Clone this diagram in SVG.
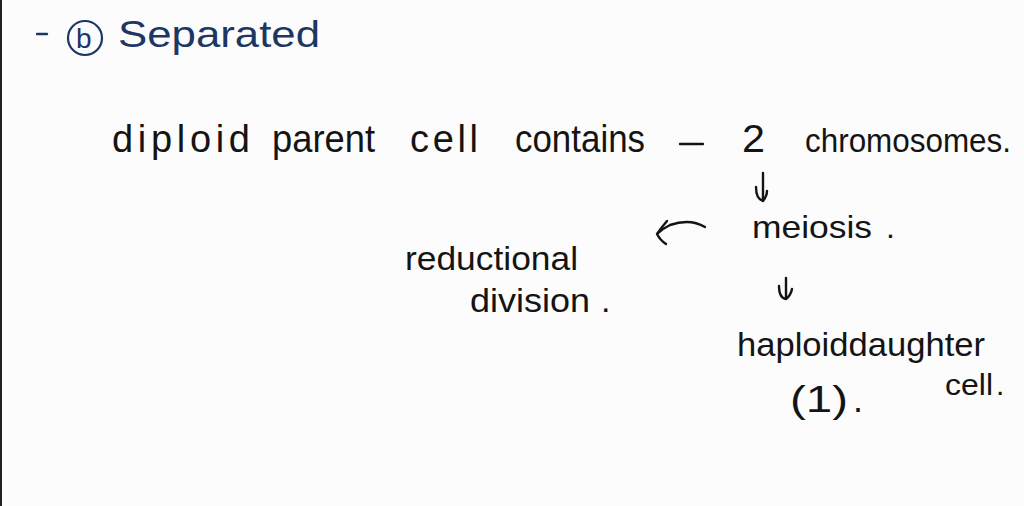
<svg xmlns="http://www.w3.org/2000/svg" width="1024" height="506" viewBox="0 0 1024 506">
<style>
.t{font-family:"Liberation Sans","DejaVu Sans",sans-serif;fill:#141414;}
.b{fill:#1d3764;}
.ar{fill:none;stroke:#141414;stroke-width:2.4;stroke-linecap:round;stroke-linejoin:round;}
</style>
<rect width="1024" height="506" fill="#fcfcfc"/>
<rect x="0" y="0" width="2" height="506" fill="#222"/>
<g id="heading">
<line x1="37" y1="34" x2="47" y2="34" stroke="#1d3764" stroke-width="2.4" stroke-linecap="round"/>
<circle cx="85" cy="38" r="17" fill="none" stroke="#1d3764" stroke-width="2.2"/>
<text class="t b" x="76" y="48" font-size="28">b</text>
<text class="t b" x="118" y="47" font-size="36" textLength="202" lengthAdjust="spacingAndGlyphs">Separated</text>
</g>
<g id="parent">
<text class="t" x="112" y="152" font-size="38" textLength="138" lengthAdjust="spacing">diploid</text>
<text class="t" x="272" y="152" font-size="38" textLength="103" lengthAdjust="spacingAndGlyphs">parent</text>
<text class="t" x="410" y="152" font-size="38" textLength="68" lengthAdjust="spacing">cell</text>
<text class="t" x="515" y="152" font-size="38" textLength="130" lengthAdjust="spacingAndGlyphs">contains</text>
<line x1="680" y1="144" x2="703" y2="144" stroke="#141414" stroke-width="2.4" stroke-linecap="round"/>
<text class="t" x="742" y="152" font-size="38" textLength="23" lengthAdjust="spacingAndGlyphs">2</text>
<text class="t" x="805" y="152" font-size="33" textLength="206" lengthAdjust="spacingAndGlyphs">chromosomes.</text>
</g>
<g id="meiosis">
<text class="t" x="752" y="238" font-size="32" textLength="120" lengthAdjust="spacingAndGlyphs">meiosis</text>
<text class="t" x="886" y="238" font-size="32">.</text>
</g>
<g id="reductional">
<text class="t" x="405" y="270" font-size="34" textLength="173" lengthAdjust="spacingAndGlyphs">reductional</text>
<text class="t" x="470" y="312" font-size="34" textLength="120" lengthAdjust="spacingAndGlyphs">division</text>
<text class="t" x="601" y="312" font-size="34">.</text>
</g>
<g id="haploid">
<text class="t" x="737" y="356" font-size="34" textLength="248" lengthAdjust="spacingAndGlyphs">haploiddaughter</text>
<text class="t" x="945" y="395" font-size="30" textLength="48" lengthAdjust="spacingAndGlyphs">cell</text>
<text class="t" x="996" y="395" font-size="30">.</text>
<text class="t" x="790" y="412" font-size="36" textLength="58" lengthAdjust="spacingAndGlyphs">(1)</text>
<text class="t" x="853" y="412" font-size="36">.</text>
</g>
<g id="connectors">
<path class="ar" d="M763 173 L763 201 M756 187 Q756 199 763 201 Q767 196 767 191"/>
<path class="ar" d="M705 227 Q690 218 670 225 Q662 229 657 234 M667 221 Q661 228 657 234 Q660 240 666 244"/>
<path class="ar" d="M786 278 L786 299 M779 286 Q779 298 786 299 Q791 295 792 289"/>
</g>
</svg>
